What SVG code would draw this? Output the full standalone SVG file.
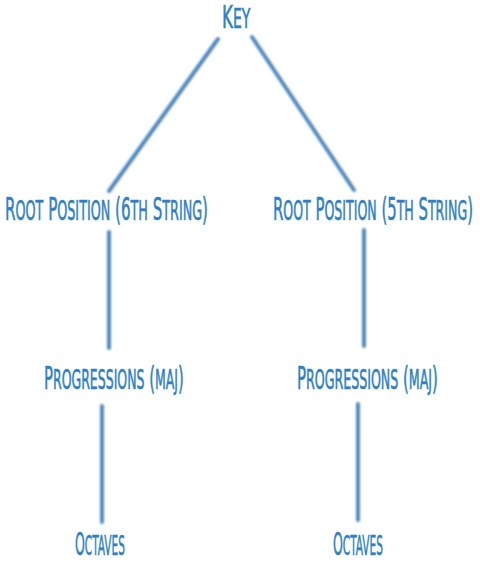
<svg xmlns="http://www.w3.org/2000/svg" width="480" height="562" viewBox="0 0 480 562">
<style>
.lbl{font-family:"DejaVu Sans Condensed","DejaVu Sans",sans-serif;font-size:32px;fill:#2f7fc4;stroke:#2f7fc4;stroke-width:0.6}
.sc{font-size:27px;text-transform:uppercase}
.edge{stroke:#4f88bd;stroke-width:4;stroke-linecap:round;fill:none}
</style>
<defs><filter id="soft" x="-20%" y="-20%" width="140%" height="140%"><feGaussianBlur stdDeviation="0.8"/></filter></defs>
<rect width="480" height="562" fill="#ffffff"/>
<g id="connectors" filter="url(#soft)">
<line class="edge" x1="218" y1="39" x2="109" y2="191"/>
<line class="edge" x1="252" y1="37" x2="354" y2="190"/>
<line class="edge" x1="109" y1="232" x2="109" y2="348"/>
<line class="edge" x1="364" y1="230" x2="364" y2="346"/>
<line class="edge" x1="102" y1="406" x2="102" y2="522"/>
<line class="edge" x1="358" y1="404" x2="358" y2="520"/>
</g>
<g id="key"><text class="lbl" transform="translate(222,28) scale(0.58,1)" font-size="26">K<tspan class="sc" font-size="22">ey</tspan></text></g>
<g id="root6"><text class="lbl" transform="translate(5,220) scale(0.525,1)">R<tspan class="sc">oot</tspan> P<tspan class="sc">osition</tspan> (6<tspan class="sc">th</tspan> S<tspan class="sc">tring</tspan>)</text></g>
<g id="root5"><text class="lbl" transform="translate(273,220) scale(0.517,1)">R<tspan class="sc">oot</tspan> P<tspan class="sc">osition</tspan> (5<tspan class="sc">th</tspan> S<tspan class="sc">tring</tspan>)</text></g>
<g id="prog6"><text class="lbl" transform="translate(44,389) scale(0.515,1)">P<tspan class="sc">rogressions</tspan> (<tspan class="sc">maj</tspan>)</text></g>
<g id="prog5"><text class="lbl" transform="translate(297,389) scale(0.519,1)">P<tspan class="sc">rogressions</tspan> (<tspan class="sc">maj</tspan>)</text></g>
<g id="oct6"><text class="lbl" transform="translate(75,555) scale(0.435,1)" font-size="28">O<tspan class="sc" font-size="24">ctaves</tspan></text></g>
<g id="oct5"><text class="lbl" transform="translate(333,555) scale(0.435,1)" font-size="28">O<tspan class="sc" font-size="24">ctaves</tspan></text></g>
</svg>
